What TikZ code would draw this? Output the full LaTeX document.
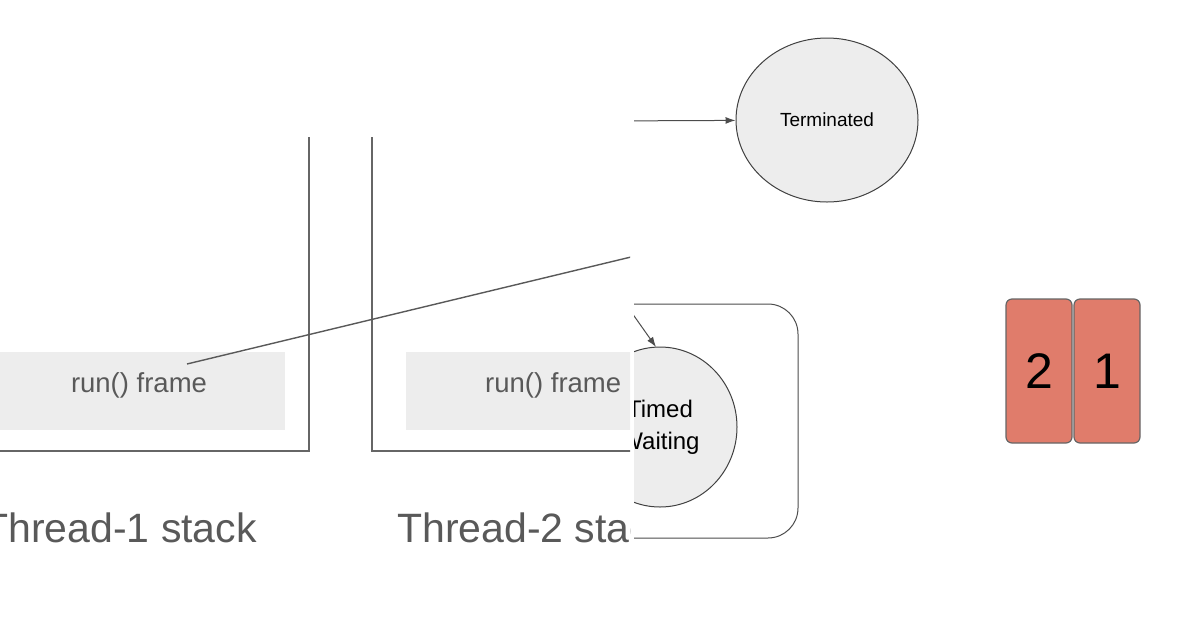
\documentclass[tikz,border=0pt]{standalone}
\usepackage{fontspec}
\setmainfont{Liberation Sans}
\usetikzlibrary{arrows.meta,shapes.geometric}
\definecolor{salmon}{HTML}{E07C6B}
\begin{document}
\begin{tikzpicture}[x=1pt,y=-1pt,
  ln/.style={draw=black!60,line width=1.4pt},
  frame/.style={fill=black!7,draw=none},
  lbl/.style={text=black!65,font=\fontsize{27.5}{30}\selectfont},
  big/.style={text=black!65,font=\fontsize{41}{44}\selectfont},
  st/.style={draw=black!75,fill=black!7,line width=1pt},
  box/.style={draw=black!60,fill=salmon,rounded corners=6pt,line width=1.2pt}]
\useasboundingbox (0,0) rectangle (1200,630);
\begin{scope}
\clip (0,0) rectangle (630,630);
\node[frame,minimum width=300pt,minimum height=78pt,inner sep=0] (f1) at (135,391) {};
\node[lbl] (t1) at (139,385) {run() frame};
\node[frame,anchor=west,minimum width=300pt,minimum height=78pt,inner sep=0] (f2) at (406,391) {};
\node[lbl,anchor=west,inner sep=0] (t2) at (485,385) {run() frame};
\draw[ln] (309,137) -- (309,451) -- (-10,451);
\draw[ln] (372,137) -- (372,451) -- (640,451);
\node[big,anchor=east,inner sep=0] (s1) at (257,528) {Thread-1 stack};
\node[big,anchor=west,inner sep=0] (s2) at (397,528) {Thread-2 stack};
\coordinate (a) at (187,364);
\coordinate (b) at (660,250);
\draw[draw=black!65,line width=1.4pt] (a) -- (b);
\end{scope}
\begin{scope}
\clip (634,0) rectangle (1200,630);
\node[st,ellipse,minimum width=182pt,minimum height=164pt] (term) at (827,120) {\fontsize{19}{22}\selectfont Terminated};
\coordinate (in) at (600,121);
\draw[black!70,line width=1pt,-{Latex[length=10pt,width=7pt]}] (in) -- (term);
\draw[black!70,line width=1pt,rounded corners=30pt] (600,304) -- (798,304) -- (798,538) -- (600,538);
\node[st,ellipse,minimum width=154pt,minimum height=160pt] (tw) at (660,427) {};
\node[font=\fontsize{24}{32}\selectfont,align=center] (twt) at (660,427) {Timed\\Waiting};
\coordinate (in2) at (620,296);
\draw[black!70,line width=1pt,-{Latex[length=10pt,width=7pt]}] (in2) -- (656,347);
\end{scope}
\node[box,minimum width=66pt,minimum height=144pt] (b2) at (1039,371) {\fontsize{50}{54}\selectfont 2};
\node[box,minimum width=66pt,minimum height=144pt] (b1) at (1107,371) {\fontsize{50}{54}\selectfont 1};
\end{tikzpicture}
\end{document}
